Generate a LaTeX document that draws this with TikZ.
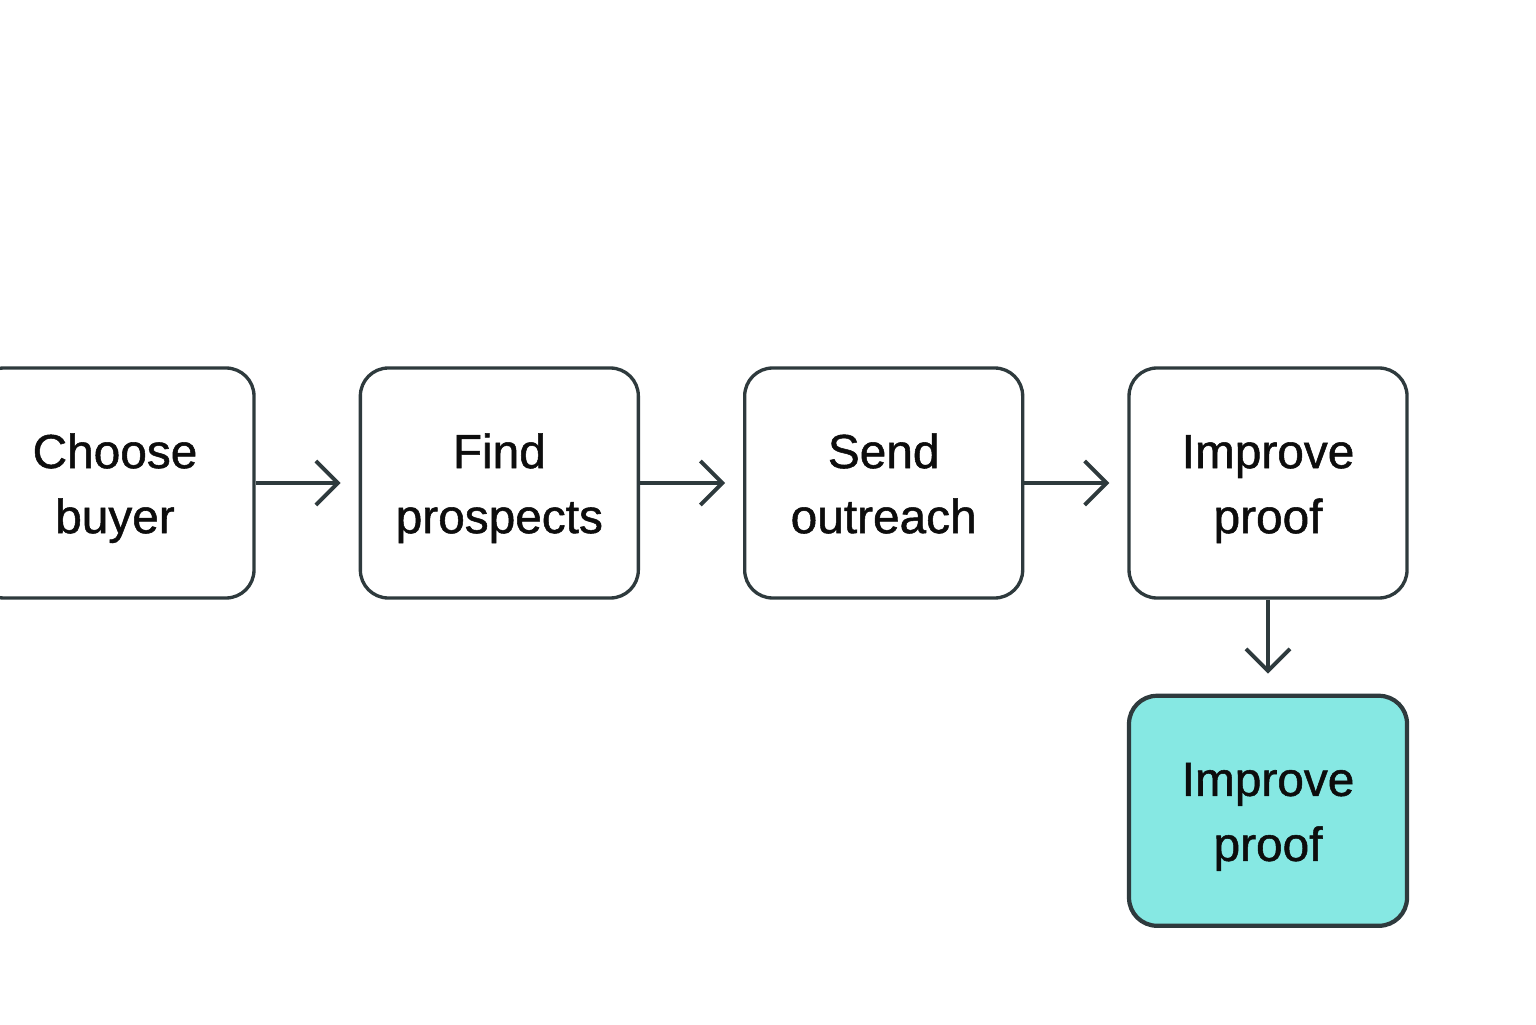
\documentclass[tikz,border=0pt]{standalone}
\usepackage{fontspec}
\setmainfont{Liberation Sans}[FakeBold=1.1]
\usetikzlibrary{positioning,arrows.meta}
\definecolor{edgegray}{HTML}{2E3A3D}
\definecolor{proofcyan}{HTML}{86E8E3}
\newcommand{\boxstrut}{\rule[-3.5pt]{0pt}{35.5pt}}
\begin{document}
\begin{tikzpicture}[node distance=1.03cm]
    \useasboundingbox (0,0) rectangle (15.36,10.24);
    \tikzstyle{stepbox} = [rectangle, rounded corners=0.28cm, minimum width=2.78cm, minimum height=2.30cm, text centered, align=center, draw=edgegray, line width=0.95pt, text=black!95, font=\fontsize{13.6}{18.5}\selectfont, execute at begin node=\boxstrut, execute at end node=\boxstrut]
    \tikzstyle{flow} = [-{Straight Barb[length=2.2mm, width=4.4mm, line width=1.1pt]}, draw=edgegray, line width=0.95pt, shorten >=0.18cm]
    \node (buyer) [stepbox] at (1.15,5.41) {Choose\\buyer};
    \node (find) [stepbox, right=of buyer] {Find\\prospects};
    \node (send) [stepbox, right=of find] {Send\\outreach};
    \node (improve) [stepbox, right=of send] {Improve\\proof};
    \node (proof) [stepbox, below=0.94cm of improve, fill=proofcyan, line width=1.2pt] {Improve\\proof};
    \draw [flow] (buyer) -- (find);
    \draw [flow] (find) -- (send);
    \draw [flow] (send) -- (improve);
    \draw [flow, shorten >=0.2cm] (improve) -- (proof);
\end{tikzpicture}
\end{document}
